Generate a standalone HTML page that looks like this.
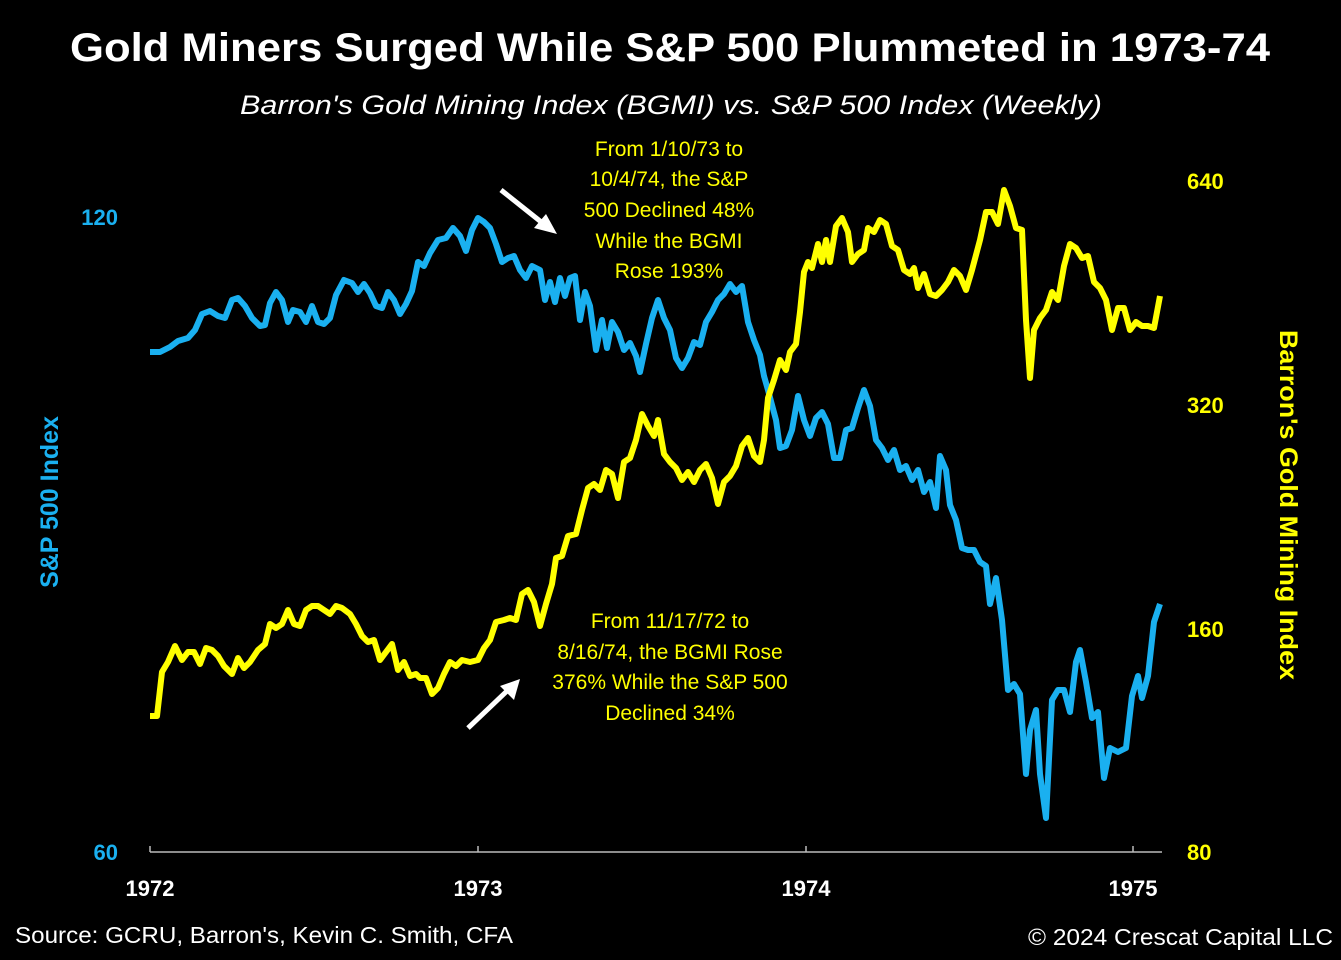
<!DOCTYPE html>
<html><head><meta charset="utf-8"><style>
html,body{margin:0;padding:0;background:#000;}
svg{display:block;}
text{font-family:"Liberation Sans",sans-serif;}
</style></head><body>
<svg width="1341" height="960" viewBox="0 0 1341 960" xmlns="http://www.w3.org/2000/svg">
<rect width="1341" height="960" fill="#000"/>
<text x="670" y="61" fill="#fff" font-size="40" font-weight="bold" text-anchor="middle" textLength="1200" lengthAdjust="spacingAndGlyphs">Gold Miners Surged While S&amp;P 500 Plummeted in 1973-74</text>
<text x="671" y="114" fill="#fff" font-size="27" font-style="italic" text-anchor="middle" textLength="862" lengthAdjust="spacingAndGlyphs">Barron's Gold Mining Index (BGMI) vs. S&amp;P 500 Index (Weekly)</text>
<line x1="150" y1="852" x2="1162" y2="852" stroke="#bbb" stroke-width="1.5"/>
<g stroke="#bbb" stroke-width="1.5"><line x1="150" y1="846" x2="150" y2="852"/><line x1="478" y1="846" x2="478" y2="852"/><line x1="806" y1="846" x2="806" y2="852"/><line x1="1133" y1="846" x2="1133" y2="852"/></g>
<g fill="#fff" font-size="22" font-weight="bold" text-anchor="middle"><text x="150" y="896">1972</text><text x="478" y="896">1973</text><text x="806" y="896">1974</text><text x="1133" y="896">1975</text></g>
<g fill="#1ab0f0" font-size="22" font-weight="bold" text-anchor="end"><text x="118" y="225">120</text><text x="118" y="860">60</text></g>
<g fill="#ffff00" font-size="22" font-weight="bold"><text x="1187" y="189">640</text><text x="1187" y="413">320</text><text x="1187" y="637">160</text><text x="1187" y="860">80</text></g>
<text transform="translate(58,502) rotate(-90)" fill="#1ab0f0" font-size="25" font-weight="bold" text-anchor="middle">S&amp;P 500 Index</text>
<text transform="translate(1280,505) rotate(90)" fill="#ffff00" font-size="25" font-weight="bold" text-anchor="middle" textLength="350" lengthAdjust="spacingAndGlyphs">Barron's Gold Mining Index</text>
<polyline fill="none" stroke="#1ab0f0" stroke-width="6" stroke-linejoin="round" points="150,352 160,352 170,347 178,341 188,338 195,330 202,314 210,311 218,316 225,318 232,300 238,298 245,306 252,318 260,326 265,325 270,303 276,292 282,300 288,322 293,310 300,312 306,322 312,306 318,322 324,324 330,318 336,295 344,280 352,283 358,292 364,284 370,293 376,306 382,308 388,292 394,300 400,314 406,304 412,291 418,262 424,266 430,253 438,240 446,238 453,228 460,236 466,251 472,230 478,218 484,222 490,228 496,244 502,262 508,258 514,256 520,270 526,278 532,266 540,270 545,300 550,282 555,302 560,278 565,296 570,278 575,276 580,320 585,292 590,306 596,350 602,320 607,348 612,322 618,332 624,350 630,343 636,356 640,372 646,344 652,318 658,300 664,318 670,330 676,358 682,368 688,358 694,342 700,345 706,322 712,312 718,300 724,294 730,284 736,292 742,286 748,322 754,340 760,355 764,376 768,390 772,405 776,420 780,448 786,446 792,430 798,396 804,420 810,436 816,418 822,412 828,424 834,458 840,458 846,430 852,428 858,408 864,390 870,406 876,440 882,448 888,460 894,450 900,470 906,466 912,480 918,470 924,492 930,482 936,508 940,456 946,470 950,505 956,520 962,548 968,550 974,550 980,562 986,566 990,604 996,578 1002,620 1008,690 1014,684 1020,694 1026,774 1030,730 1036,710 1040,774 1046,818 1052,700 1058,690 1064,690 1070,712 1076,662 1080,650 1086,682 1092,718 1098,712 1104,778 1110,748 1118,752 1126,748 1132,696 1138,676 1142,698 1148,676 1154,622 1160,604"/>
<polyline fill="none" stroke="#ffff00" stroke-width="6" stroke-linejoin="round" points="150,716 157,716 162,672 168,662 175,646 182,660 188,652 194,652 200,664 206,648 212,650 218,656 224,666 232,674 238,658 244,668 250,662 258,650 265,644 270,624 276,628 282,624 288,610 294,624 300,626 306,610 312,606 318,606 324,610 330,614 336,606 342,608 350,614 356,624 362,636 368,642 374,640 380,660 386,652 392,644 398,670 404,662 410,676 416,674 420,678 426,678 432,694 438,688 444,674 450,662 456,666 462,660 470,662 478,660 484,648 490,640 496,622 504,620 510,618 516,620 522,594 528,590 534,602 540,626 546,604 552,584 556,558 562,556 568,536 576,534 582,510 588,488 594,484 600,490 606,470 612,474 618,498 624,462 630,458 636,440 642,414 648,426 654,436 658,420 664,454 670,462 676,468 682,480 688,472 694,482 700,470 706,464 712,478 718,504 724,482 730,476 736,466 742,446 748,438 754,456 760,462 764,440 768,398 774,380 780,360 786,370 790,352 796,344 800,312 804,272 808,262 812,268 818,244 822,262 826,240 830,262 836,226 842,218 848,232 852,262 858,254 864,250 868,228 874,232 880,220 886,224 892,246 898,250 904,270 910,274 914,268 918,288 924,274 930,294 936,296 942,290 948,282 954,270 960,276 966,290 972,270 980,240 986,212 992,212 998,224 1004,190 1010,206 1016,228 1022,230 1026,320 1030,378 1034,330 1040,318 1046,310 1052,292 1058,300 1064,266 1070,244 1076,248 1082,258 1088,256 1094,282 1100,288 1106,300 1112,330 1118,308 1124,308 1130,330 1136,322 1142,326 1148,326 1154,328 1160,296"/>
<g fill="#ffff00" font-size="21" text-anchor="middle">
<text x="669" y="156">From 1/10/73 to</text><text x="669" y="186">10/4/74, the S&amp;P</text><text x="669" y="217">500 Declined 48%</text><text x="669" y="248">While the BGMI</text><text x="669" y="278">Rose 193%</text>
<text x="670" y="628">From 11/17/72 to</text><text x="670" y="659">8/16/74, the BGMI Rose</text><text x="670" y="689">376% While the S&amp;P 500</text><text x="670" y="720">Declined 34%</text>
</g>
<g stroke="#fff" stroke-width="5" fill="#fff">
<line x1="501" y1="190" x2="545" y2="225"/><polygon points="557,234 534,228 546,214" stroke="none"/>
<line x1="468" y1="728" x2="508" y2="690"/><polygon points="520,679 514,700 500,686" stroke="none"/>
</g>
<text x="15" y="943" fill="#fff" font-size="23" textLength="498" lengthAdjust="spacingAndGlyphs">Source: GCRU, Barron's, Kevin C. Smith, CFA</text>
<text x="1333" y="945" fill="#fff" font-size="23" text-anchor="end" textLength="305" lengthAdjust="spacingAndGlyphs">© 2024 Crescat Capital LLC</text>
</svg>
</body></html>
